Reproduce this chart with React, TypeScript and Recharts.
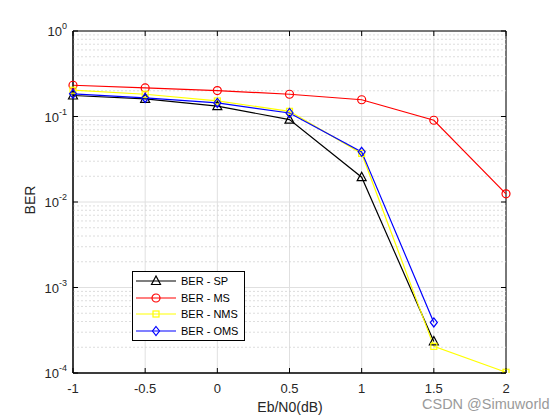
import { LineChart, Line, XAxis, YAxis, CartesianGrid, ReferenceLine, ReferenceArea } from 'recharts'

const W = 560
const H = 420
const M = { top: 31, right: 54, bottom: 47, left: 73 }
const PW = W - M.left - M.right
const PH = H - M.top - M.bottom
const FONT = '"Liberation Sans", Arial, sans-serif'

const ebn0 = [-1, -0.5, 0, 0.5, 1, 1.5, 2]
const berSP = [0.176, 0.161, 0.132, 0.092, 0.0195, 2.34e-4, null]
const berMS = [0.232, 0.216, 0.201, 0.182, 0.157, 0.0904, 0.01245]
const berNMS = [0.203, 0.182, 0.152, 0.115, 0.037, 2.05e-4, 1.02e-4]
const berOMS = [0.184, 0.165, 0.144, 0.11, 0.0386, 3.9e-4, null]

const xTicks = [-1, -0.5, 0, 0.5, 1, 1.5, 2]
const yTicks = [1e-4, 1e-3, 1e-2, 1e-1, 1]
const minorSteps = [2, 3, 4, 5, 6, 7, 8, 9]

const series = [
  { key: 'sp', name: 'BER - SP', color: '#000000', shape: 'tri', values: berSP },
  { key: 'ms', name: 'BER - MS', color: '#FF0000', shape: 'circ', values: berMS },
  { key: 'nms', name: 'BER - NMS', color: '#FFFF00', shape: 'sq', values: berNMS },
  { key: 'oms', name: 'BER - OMS', color: '#0000FF', shape: 'dia', values: berOMS },
]

const data = ebn0.map((x, i) => {
  const row: Record<string, number | null> = { x }
  series.forEach(s => { row[s.key] = s.values[i] })
  return row
})

const minorValues = yTicks.slice(0, -1).flatMap(d => minorSteps.map(m => d * m))

function Marker({ shape, color, cx, cy }: { shape: string; color: string; cx: number; cy: number }) {
  const common = { fill: 'none', stroke: color, strokeWidth: 1.2 }
  if (cx == null || cy == null || Number.isNaN(cy)) return null
  if (shape === 'tri') return <polygon points={`${cx},${cy - 5} ${cx - 4.5},${cy + 3.5} ${cx + 4.5},${cy + 3.5}`} {...common} />
  if (shape === 'circ') return <circle cx={cx} cy={cy} r={4} {...common} />
  if (shape === 'sq') return <rect x={cx - 3} y={cy - 3} width={6} height={6} {...common} />
  return <polygon points={`${cx},${cy - 4.5} ${cx + 3.5},${cy} ${cx},${cy + 4.5} ${cx - 3.5},${cy}`} {...common} />
}

function XTick({ x, y, payload }: any) {
  return (
    <g>
      <line x1={x} x2={x} y1={y} y2={y - 5} stroke="#000" />
      <line x1={x} x2={x} y1={y - PH} y2={y - PH + 5} stroke="#000" />
      <text x={x} y={y + 20} textAnchor="middle" fontSize={13} fontFamily={FONT} fill="#262626">{payload.value}</text>
    </g>
  )
}

function YTick({ x, y, payload }: any) {
  const e = Math.round(Math.log10(payload.value))
  return (
    <g>
      <line x1={x} x2={x + 5} y1={y} y2={y} stroke="#000" />
      <line x1={x + PW} x2={x + PW - 5} y1={y} y2={y} stroke="#000" />
      <text x={x - 6} y={y + 5} textAnchor="end" fontSize={13} fontFamily={FONT} fill="#262626">
        10<tspan dy={-7} fontSize={9}>{e}</tspan>
      </text>
    </g>
  )
}

function LegendBox() {
  return (
    <div style={{ position: 'absolute', left: 132, top: 271, border: '1px solid #000', background: '#fff', padding: '1px 6px 1px 3px', fontFamily: FONT, fontSize: 11, color: '#000' }}>
      {series.map(s => (
        <div key={s.key} style={{ display: 'flex', alignItems: 'center', height: 16.5 }}>
          <svg width={40} height={12} style={{ marginRight: 5 }}>
            <line x1={0} x2={40} y1={6} y2={6} stroke={s.color} strokeWidth={1.2} />
            <Marker shape={s.shape} color={s.color} cx={20} cy={6} />
          </svg>
          <span>{s.name}</span>
        </div>
      ))}
    </div>
  )
}

export default function App() {
  return (
    <div style={{ position: 'relative', width: W, height: H, background: '#fff' }}>
      <style>{'body{margin:0}'}</style>
      <LineChart width={W} height={H} data={data} margin={{ top: M.top, right: M.right, bottom: 0, left: 0 }}>
        <CartesianGrid stroke="#e0e0e0" strokeWidth={1} />
        {minorValues.map(v => (
          <ReferenceLine key={v} y={v} stroke="#d4d4d4" strokeDasharray="2 2" strokeWidth={0.8} />
        ))}
        <XAxis
          dataKey="x" type="number" domain={[-1, 2]} ticks={xTicks} interval={0}
          height={M.bottom} tickSize={0} tickMargin={0} tickLine={false}
          axisLine={{ stroke: '#000' }} tick={<XTick />}
        />
        <YAxis
          type="number" scale="log" domain={[1e-4, 1]} allowDataOverflow ticks={yTicks} interval={0}
          width={M.left} tickSize={0} tickMargin={0} tickLine={false}
          axisLine={{ stroke: '#000' }} tick={<YTick />}
        />
        <ReferenceArea x1={-1} x2={2} y1={1e-4} y2={1} fill="none" stroke="#000" strokeWidth={1} />
        {series.map(s => (
          <Line
            key={s.key} dataKey={s.key} name={s.name} stroke={s.color} strokeWidth={1.2}
            isAnimationActive={false} connectNulls={false}
            dot={(p: any) => <Marker key={`${s.key}-${p.index}`} shape={s.shape} color={s.color} cx={p.cx} cy={p.cy} />}
            activeDot={false}
          />
        ))}
      </LineChart>
      <LegendBox />
      <div style={{ position: 'absolute', left: 30, top: 200, transform: 'translate(-50%,-50%) rotate(-90deg)', fontFamily: FONT, fontSize: 14, color: '#262626' }}>BER</div>
      <div style={{ position: 'absolute', left: 290, top: 407, transform: 'translate(-50%,-50%)', fontFamily: FONT, fontSize: 14, color: '#262626', whiteSpace: 'nowrap' }}>Eb/N0(dB)</div>
      <div style={{ position: 'absolute', left: 422, top: 396, fontFamily: FONT, fontSize: 14.5, color: '#9a9a9a', whiteSpace: 'nowrap' }}>CSDN @Simuworld</div>
    </div>
  )
}
